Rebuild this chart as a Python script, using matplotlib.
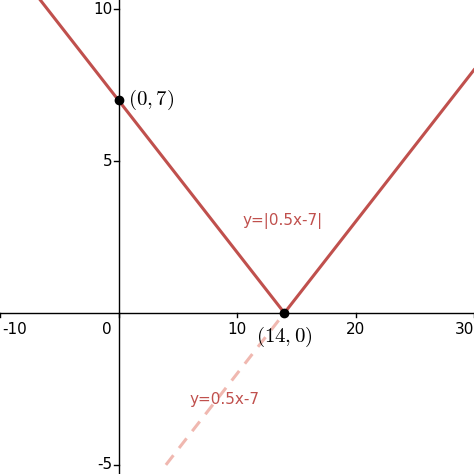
import numpy as np
import matplotlib
matplotlib.use("Agg")
import matplotlib.pyplot as plt

x_abs = [-10, 14, 30]
y_abs = [abs(0.5 * v - 7) for v in x_abs]
x_lin = [4, 14]
y_lin = [0.5 * v - 7 for v in x_lin]
pts = [(0, 7), (14, 0)]
xticks = [-10, 0, 10, 20, 30]
yticks = [-5, 5, 10]

plt.rcParams["mathtext.fontset"] = "cm"
fig = plt.figure(figsize=(4.74, 4.74), dpi=100)
ax = fig.add_axes([0, 0, 1, 1])
ax.set_xlim(-10, 30)
ax.set_ylim(-5.3, 10.3)
for s in ax.spines.values():
    s.set_visible(False)
ax.set_xticks([]); ax.set_yticks([])
ax.axhline(0, color="black", lw=1)
ax.axvline(0, color="black", lw=1)
for t in xticks:
    ax.plot([t, t], [0, -0.12], color="black", lw=1)
    if t == -10:
        ax.text(-9.8, -0.3, str(t), ha="left", va="top", fontsize=11)
    elif t == 30:
        ax.text(29.2, -0.3, str(t), ha="center", va="top", fontsize=11)
    elif t == 0:
        ax.text(-0.6, -0.3, str(t), ha="right", va="top", fontsize=11)
    else:
        ax.text(t, -0.3, str(t), ha="center", va="top", fontsize=11)
for t in yticks:
    ax.plot([0, -0.35], [t, t], color="black", lw=1)
    ax.text(-0.5, t, str(t), ha="right", va="center", fontsize=11)

ax.plot(x_abs, y_abs, color="#c0504d", lw=2.2)
ax.plot(x_lin, y_lin, color="#f0b8b0", lw=2.2, ls=(0, (4, 3)))
for px, py in pts:
    ax.plot(px, py, "o", color="black", ms=6, zorder=5)
ax.text(0.8, 7, r"$(0, 7)$", fontsize=15, va="center")
ax.text(14, -0.4, r"$(14, 0)$", fontsize=15, ha="center", va="top")
ax.text(10.5, 2.9, "y=|0.5x-7|", color="#c0504d", fontsize=11)
ax.text(6, -3, "y=0.5x-7", color="#c0504d", fontsize=11)
fig.savefig("out.png", dpi=100)
